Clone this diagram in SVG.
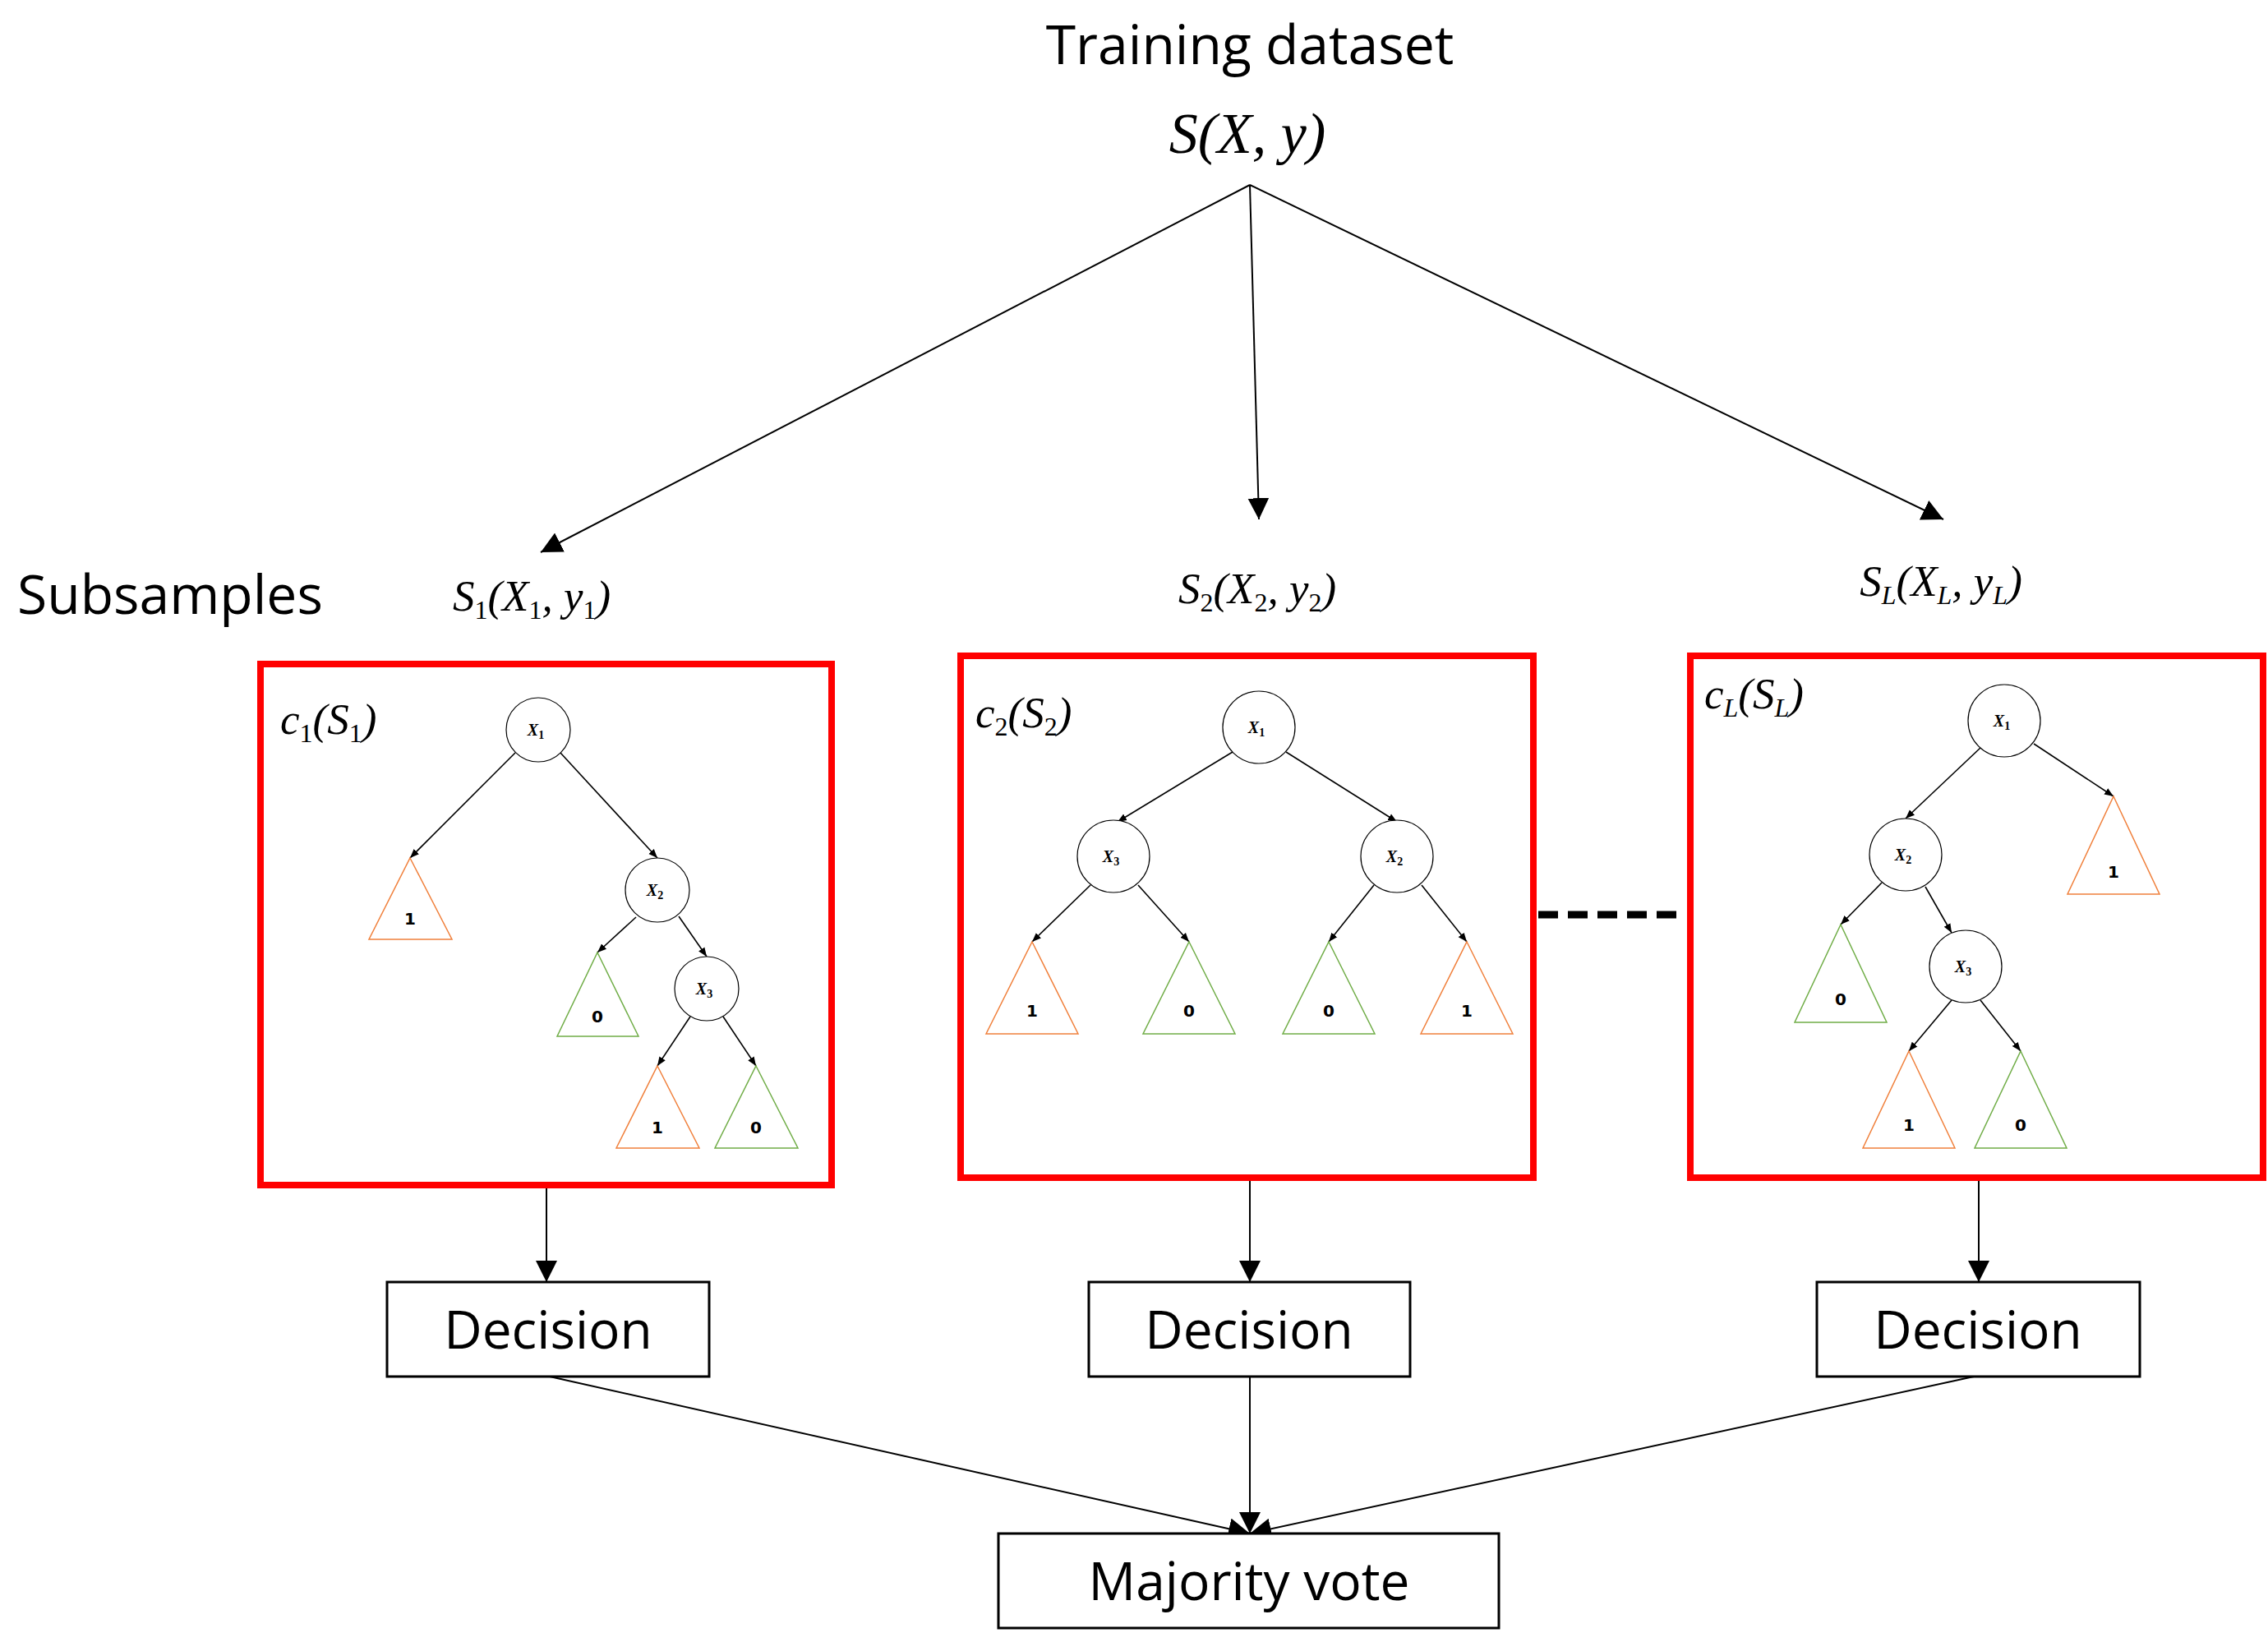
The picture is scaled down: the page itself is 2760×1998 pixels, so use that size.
<svg xmlns="http://www.w3.org/2000/svg" width="2760" height="1998" viewBox="0 0 2760 1998">
<style>
.sans{font-family:"Open Sans","Liberation Sans",sans-serif;fill:#000}
.math{font-family:"Liberation Serif",serif;font-style:italic;fill:#000}
.sub{font-style:normal}
.frame{fill:none;stroke:#ff0000;stroke-width:8}
.box{fill:#fff;stroke:#000;stroke-width:3}
.c{fill:#fff;stroke:#000;stroke-width:1.2}
.cl{font-family:"Liberation Serif",serif;font-style:italic;font-weight:bold;font-size:20px;text-anchor:middle}
.t1{fill:none;stroke:#f0803c;stroke-width:1.5}
.t0{fill:none;stroke:#70ad47;stroke-width:1.5}
.tl{font-family:"DejaVu Sans",sans-serif;font-weight:bold;font-size:20px;text-anchor:middle}
.e{stroke:#000;stroke-width:2;fill:none}
.e2{stroke:#000;stroke-width:1.6;fill:none}
</style>
<defs>
<marker id="big" markerWidth="10" markerHeight="10" refX="9" refY="5" orient="auto" markerUnits="userSpaceOnUse" viewBox="0 0 10 10"><path d="M0,0 L10,5 L0,10 z" fill="#000"/></marker>
<marker id="ah" viewBox="0 0 10 10" refX="10" refY="5" markerWidth="26" markerHeight="26" markerUnits="userSpaceOnUse" orient="auto"><path d="M0,0 L10,5 L0,10 z" fill="#000"/></marker>
<marker id="sm" viewBox="0 0 10 10" refX="10" refY="5" markerWidth="11" markerHeight="11" markerUnits="userSpaceOnUse" orient="auto"><path d="M0,1 L10,5 L0,9 z" fill="#000"/></marker>
</defs>
<rect width="2760" height="1998" fill="#fff"/>
<g id="title">
<text class="sans" x="1521" y="78" font-size="66" text-anchor="middle">Training dataset</text>
<text class="math" x="1518" y="186" font-size="70" text-anchor="middle">S(X, y)</text>
</g>
<text class="sans" x="21" y="747" font-size="66">Subsamples</text>
<g id="connectors">
<line class="e" x1="1521" y1="225" x2="658" y2="672" marker-end="url(#ah)"/>
<line class="e" x1="1521" y1="225" x2="1532" y2="632" marker-end="url(#ah)"/>
<line class="e" x1="1521" y1="225" x2="2365" y2="632" marker-end="url(#ah)"/>
<line class="e" x1="665" y1="1446" x2="665" y2="1560" marker-end="url(#ah)"/>
<line class="e" x1="1521" y1="1437" x2="1521" y2="1560" marker-end="url(#ah)"/>
<line class="e" x1="2408" y1="1437" x2="2408" y2="1560" marker-end="url(#ah)"/>
<line class="e" x1="669" y1="1675" x2="1521" y2="1866" marker-end="url(#ah)"/>
<line class="e" x1="1521" y1="1675" x2="1521" y2="1866" marker-end="url(#ah)"/>
<line class="e" x1="2402" y1="1675" x2="1521" y2="1866" marker-end="url(#ah)"/>
<line x1="1872" y1="1113" x2="2052" y2="1113" stroke="#000" stroke-width="9" stroke-dasharray="24,12"/>
</g>
<g id="s1"><text class="math" x="647" y="743" font-size="53" text-anchor="middle">S<tspan class="sub" font-size="32" dy="10">1</tspan><tspan dy="-10">(X</tspan><tspan class="sub" font-size="32" dy="10">1</tspan><tspan dy="-10">, y</tspan><tspan class="sub" font-size="32" dy="10">1</tspan><tspan dy="-10">)</tspan></text></g>
<g id="s2"><text class="math" x="1530" y="734" font-size="53" text-anchor="middle">S<tspan class="sub" font-size="32" dy="10">2</tspan><tspan dy="-10">(X</tspan><tspan class="sub" font-size="32" dy="10">2</tspan><tspan dy="-10">, y</tspan><tspan class="sub" font-size="32" dy="10">2</tspan><tspan dy="-10">)</tspan></text></g>
<g id="sL"><text class="math" x="2362" y="725" font-size="53" text-anchor="middle">S<tspan font-size="32" dy="10">L</tspan><tspan dy="-10">(X</tspan><tspan font-size="32" dy="10">L</tspan><tspan dy="-10">, y</tspan><tspan font-size="32" dy="10">L</tspan><tspan dy="-10">)</tspan></text></g>

<g id="tree1">
<rect class="frame" x="317" y="808" width="695" height="634"/>
<text class="math" x="341" y="893" font-size="53">c<tspan class="sub" font-size="32" dy="10">1</tspan><tspan dy="-10">(S</tspan><tspan class="sub" font-size="32" dy="10">1</tspan><tspan dy="-10">)</tspan></text>
<line class="e2" x1="627" y1="916" x2="499" y2="1044" marker-end="url(#sm)"/>
<line class="e2" x1="682" y1="916" x2="800" y2="1044" marker-end="url(#sm)"/>
<line class="e2" x1="774" y1="1116" x2="727" y2="1159" marker-end="url(#sm)"/>
<line class="e2" x1="826" y1="1115" x2="860" y2="1164" marker-end="url(#sm)"/>
<line class="e2" x1="840" y1="1237" x2="800" y2="1297" marker-end="url(#sm)"/>
<line class="e2" x1="880" y1="1237" x2="920" y2="1297" marker-end="url(#sm)"/>
<circle class="c" cx="655" cy="888" r="39"/><text class="cl" x="652" y="895">X<tspan class="sub" font-size="14" dy="4">1</tspan></text>
<circle class="c" cx="800" cy="1083" r="39"/><text class="cl" x="797" y="1090">X<tspan class="sub" font-size="14" dy="4">2</tspan></text>
<circle class="c" cx="860" cy="1203" r="39"/><text class="cl" x="857" y="1210">X<tspan class="sub" font-size="14" dy="4">3</tspan></text>
<path class="t1" d="M499,1044 L550,1143 L449,1143 z"/><text class="tl" x="499" y="1125">1</text>
<path class="t0" d="M727,1159 L777,1261 L678,1261 z"/><text class="tl" x="727" y="1244">0</text>
<path class="t1" d="M800,1297 L851,1397 L750,1397 z"/><text class="tl" x="800" y="1379">1</text>
<path class="t0" d="M920,1297 L971,1397 L870,1397 z"/><text class="tl" x="920" y="1379">0</text>
</g>

<g id="tree2">
<rect class="frame" x="1169" y="798" width="697" height="635"/>
<text class="math" x="1187" y="885" font-size="53">c<tspan class="sub" font-size="32" dy="10">2</tspan><tspan dy="-10">(S</tspan><tspan class="sub" font-size="32" dy="10">2</tspan><tspan dy="-10">)</tspan></text>
<line class="e2" x1="1500" y1="915" x2="1360" y2="1000" marker-end="url(#sm)"/>
<line class="e2" x1="1565" y1="915" x2="1700" y2="1000" marker-end="url(#sm)"/>
<line class="e2" x1="1327" y1="1077" x2="1256" y2="1146" marker-end="url(#sm)"/>
<line class="e2" x1="1385" y1="1077" x2="1447" y2="1146" marker-end="url(#sm)"/>
<line class="e2" x1="1672" y1="1077" x2="1617" y2="1146" marker-end="url(#sm)"/>
<line class="e2" x1="1730" y1="1077" x2="1785" y2="1146" marker-end="url(#sm)"/>
<circle class="c" cx="1532" cy="885" r="44"/><text class="cl" x="1529" y="892">X<tspan class="sub" font-size="14" dy="4">1</tspan></text>
<circle class="c" cx="1355" cy="1042" r="44"/><text class="cl" x="1352" y="1049">X<tspan class="sub" font-size="14" dy="4">3</tspan></text>
<circle class="c" cx="1700" cy="1042" r="44"/><text class="cl" x="1697" y="1049">X<tspan class="sub" font-size="14" dy="4">2</tspan></text>
<path class="t1" d="M1256,1146 L1312,1258 L1200,1258 z"/><text class="tl" x="1256" y="1237">1</text>
<path class="t0" d="M1447,1146 L1503,1258 L1391,1258 z"/><text class="tl" x="1447" y="1237">0</text>
<path class="t0" d="M1617,1146 L1673,1258 L1561,1258 z"/><text class="tl" x="1617" y="1237">0</text>
<path class="t1" d="M1785,1146 L1841,1258 L1729,1258 z"/><text class="tl" x="1785" y="1237">1</text>
</g>

<g id="treeL">
<rect class="frame" x="2057" y="798" width="697" height="635"/>
<text class="math" x="2074" y="862" font-size="53">c<tspan font-size="32" dy="10">L</tspan><tspan dy="-10">(S</tspan><tspan font-size="32" dy="10">L</tspan><tspan dy="-10">)</tspan></text>
<line class="e2" x1="2410" y1="910" x2="2319" y2="996" marker-end="url(#sm)"/>
<line class="e2" x1="2475" y1="905" x2="2572" y2="969" marker-end="url(#sm)"/>
<line class="e2" x1="2290" y1="1074" x2="2240" y2="1125" marker-end="url(#sm)"/>
<line class="e2" x1="2343" y1="1079" x2="2375" y2="1135" marker-end="url(#sm)"/>
<line class="e2" x1="2375" y1="1217" x2="2323" y2="1279" marker-end="url(#sm)"/>
<line class="e2" x1="2410" y1="1217" x2="2459" y2="1279" marker-end="url(#sm)"/>
<circle class="c" cx="2439" cy="877" r="44"/><text class="cl" x="2436" y="884">X<tspan class="sub" font-size="14" dy="4">1</tspan></text>
<circle class="c" cx="2319" cy="1040" r="44"/><text class="cl" x="2316" y="1047">X<tspan class="sub" font-size="14" dy="4">2</tspan></text>
<circle class="c" cx="2392" cy="1176" r="44"/><text class="cl" x="2389" y="1183">X<tspan class="sub" font-size="14" dy="4">3</tspan></text>
<path class="t1" d="M2572,969 L2628,1088 L2516,1088 z"/><text class="tl" x="2572" y="1068">1</text>
<path class="t0" d="M2240,1125 L2296,1244 L2184,1244 z"/><text class="tl" x="2240" y="1223">0</text>
<path class="t1" d="M2323,1279 L2379,1397 L2267,1397 z"/><text class="tl" x="2323" y="1376">1</text>
<path class="t0" d="M2459,1279 L2515,1397 L2403,1397 z"/><text class="tl" x="2459" y="1376">0</text>
</g>

<g id="d1"><rect class="box" x="471" y="1560" width="392" height="115"/><text class="sans" x="667" y="1641" font-size="64" text-anchor="middle">Decision</text></g>
<g id="d2"><rect class="box" x="1325" y="1560" width="391" height="115"/><text class="sans" x="1520" y="1641" font-size="64" text-anchor="middle">Decision</text></g>
<g id="d3"><rect class="box" x="2211" y="1560" width="393" height="115"/><text class="sans" x="2407" y="1641" font-size="64" text-anchor="middle">Decision</text></g>
<g id="mv"><rect class="box" x="1215" y="1866" width="609" height="115"/><text class="sans" x="1520" y="1947" font-size="64" text-anchor="middle">Majority vote</text></g>
</svg>
